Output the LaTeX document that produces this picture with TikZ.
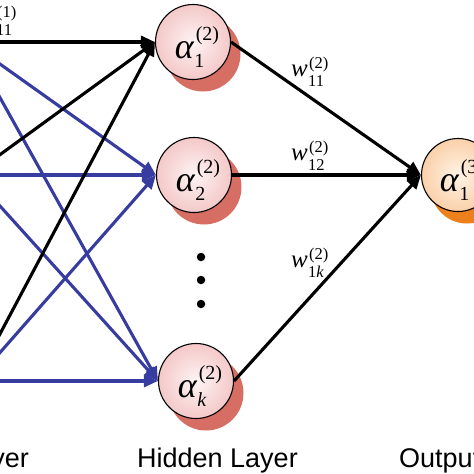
\documentclass[tikz,border=0pt]{standalone}
\usepackage{fontspec}
\setmainfont{Liberation Serif}
\newfontfamily\labsans{Liberation Sans}
\usetikzlibrary{arrows.meta,shadows}
\definecolor{blueline}{RGB}{55,60,160}
\definecolor{shadowred}{RGB}{214,110,100}
\definecolor{shadoworange}{RGB}{236,128,28}
\definecolor{pinkin}{RGB}{254,244,244}
\definecolor{pinkout}{RGB}{244,200,200}
\definecolor{peachin}{RGB}{255,244,230}
\definecolor{peachout}{RGB}{250,208,170}
\newcommand{\alab}[2]{{\fontsize{36}{36}\selectfont\itshape α}\kern0.5pt\makebox[0pt][l]{\raisebox{-9pt}{\fontsize{20}{20}\selectfont #1}}\kern1.5pt\raisebox{18.5pt}{\fontsize{20}{20}\selectfont (#2)}}
\newcommand{\wlab}[2]{{\fontsize{25}{25}\selectfont\itshape w}\kern0.5pt\makebox[0pt][l]{\raisebox{-10pt}{\fontsize{16.5}{16.5}\selectfont #1}}\kern1pt\raisebox{8pt}{\fontsize{16.5}{16.5}\selectfont (#2)}}
\begin{document}
\begin{tikzpicture}[x=1pt,y=-1pt,
  neuron/.style={circle, draw=black, line width=1.1pt, minimum size=75pt, inner sep=0pt,
    drop shadow={shadow xshift=10pt, shadow yshift=-12pt, fill=shadowred, opacity=1}},
  hid/.style={neuron, shading=radial, inner color=pinkin, outer color=pinkout},
  outn/.style={circle, draw=black, line width=1.1pt, minimum size=73pt, inner sep=0pt,
    shading=radial, inner color=peachin, outer color=peachout,
    drop shadow={shadow xshift=9pt, shadow yshift=-12pt, fill=shadoworange, opacity=1}},
  txt/.style={inner sep=0pt, outer sep=0pt},
  layer/.style={inner sep=0pt, font=\labsans\fontsize{27}{27}\selectfont},
  conn/.style={line width=3.1pt, -{Triangle[length=14pt,width=12pt]}},
  bconn/.style={conn, draw=blueline},
  kconn/.style={conn, draw=black},
  dot/.style={circle, fill=black, inner sep=0pt, minimum size=8.5pt}
]
\useasboundingbox (0,0) rectangle (474,474);
\clip (0,0) rectangle (474,474);
% input sources (off the visible area)
\coordinate (in1) at (-31,42);
\coordinate (in2) at (-28,175);
\coordinate (in3) at (-25,381);
% hidden and output neurons
\node[hid] (a1) at (193,42) {};
\node[hid] (a2) at (194,175) {};
\node[hid] (ak) at (196,381) {};
\node[outn] (out) at (458,175) {};
\node[txt] (la1) at (197,47) {\alab{1}{2}};
\node[txt] (la2) at (198,180) {\alab{2}{2}};
\node[txt] (lak) at (200,386) {\alab{\itshape k}{2}};
\node[txt] (lout) at (462,180) {\alab{1}{3}};
% dots
\node[dot] (d1) at (201,257) {};
\node[dot] (d2) at (201,280) {};
\node[dot] (d3) at (201,304) {};
% blue connectors
\draw[bconn] (in1) -- (a2.west);
\draw[bconn] (in1) -- (ak.west);
\draw[bconn] (in2) -- (a2.west);
\draw[bconn] (in2) -- (ak.west);
\draw[bconn] (in3) -- (a2.west);
\draw[bconn] (in3) -- (ak.west);
% black connectors
\draw[kconn] (in1) -- (a1.west);
\draw[kconn] (in2) -- (a1.west);
\draw[kconn] (in3) -- (a1.west);
\draw[kconn] (a1.east) -- (out.west);
\draw[kconn] (a2.east) -- (out.west);
\draw[kconn] (ak.east) -- (out.west);
% weight labels
\node[txt, anchor=base west] (w111) at (-21,25) {\wlab{11}{1}};
\node[txt, anchor=base west] (w11) at (291,76) {\wlab{11}{2}};
\node[txt, anchor=base west] (w12) at (291,160) {\wlab{12}{2}};
\node[txt, anchor=base west] (w1k) at (291,267) {\wlab{1{\itshape k}}{2}};
% layer labels
\node[layer, anchor=base east] (inlab) at (29,467) {Input Layer};
\node[layer, anchor=base west] (hidlab) at (137,467) {Hidden Layer};
\node[layer, anchor=base west] (outlab) at (399,467) {Output Layer};
\end{tikzpicture}
\end{document}
